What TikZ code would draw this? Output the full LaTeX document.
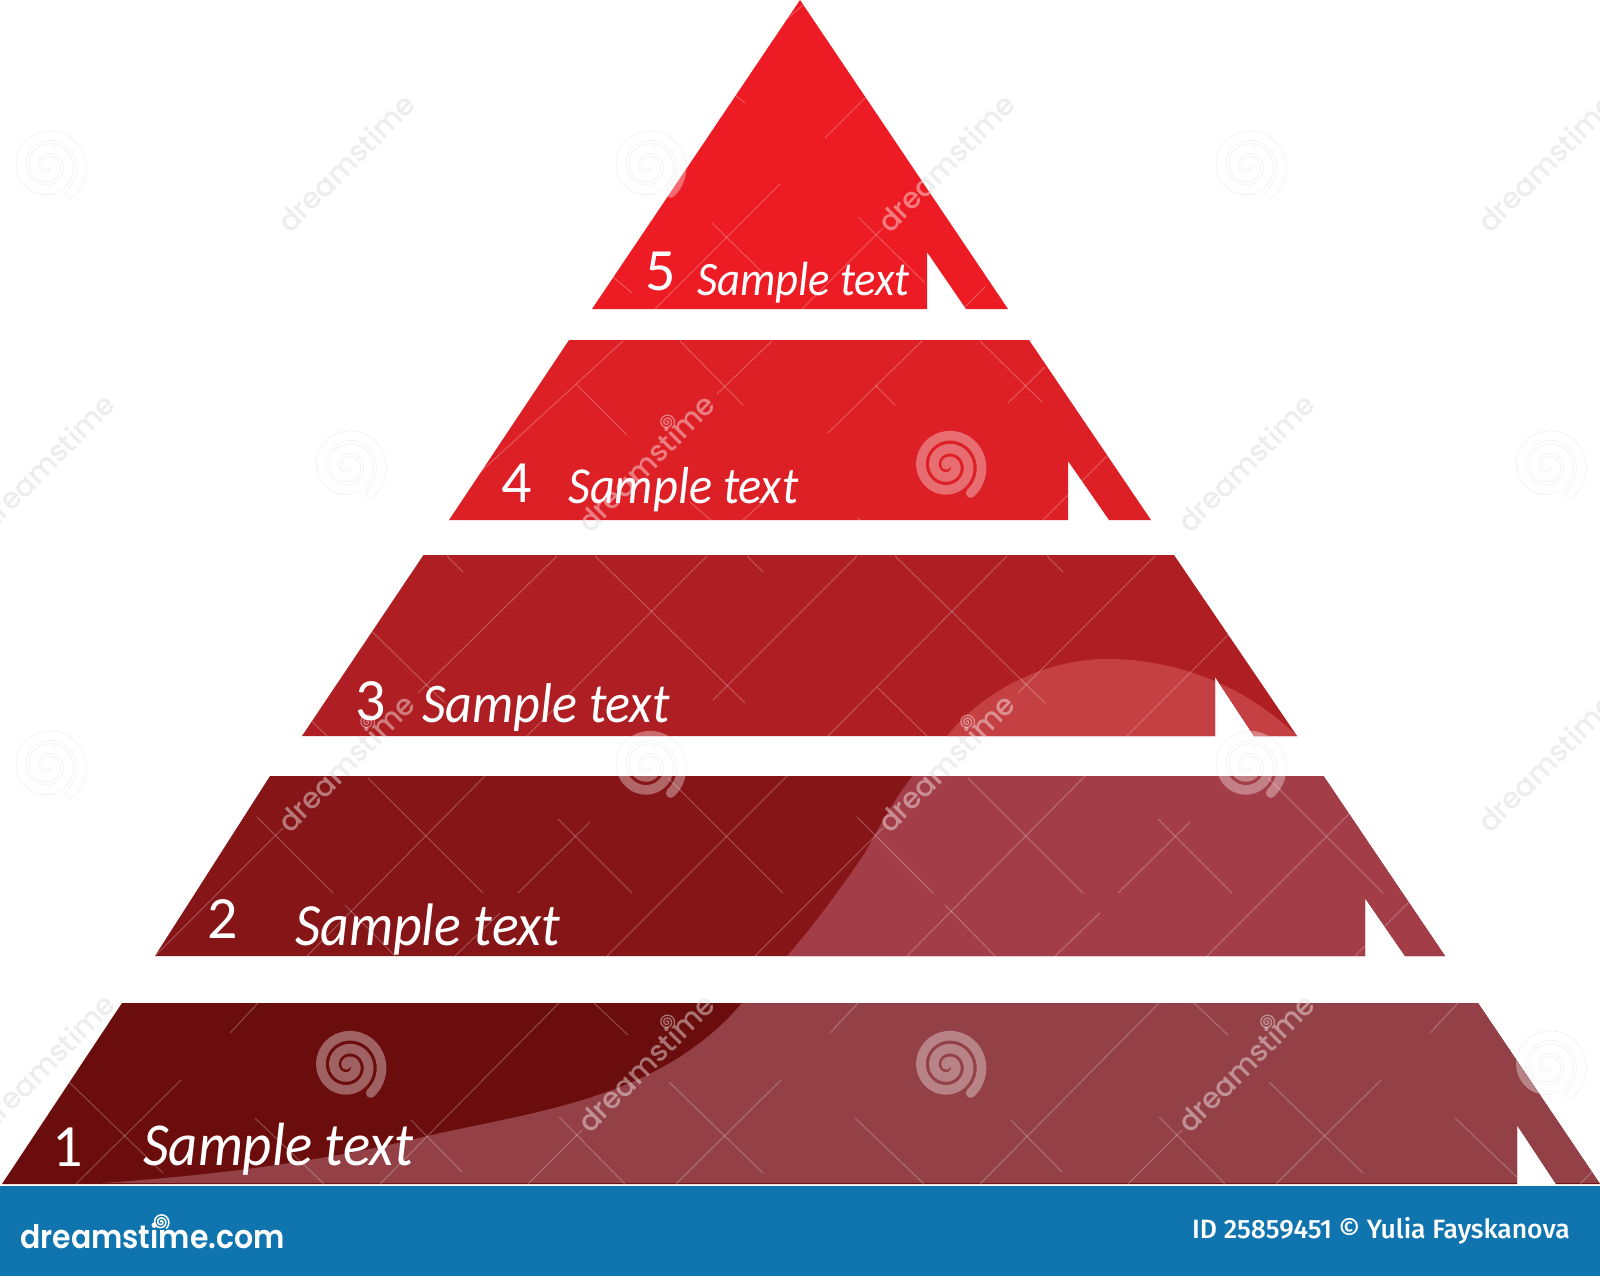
\documentclass[tikz,border=0pt]{standalone}
\usepackage{fontspec}
\setmainfont{Carlito}
\newfontfamily\samplefont[FakeStretch=.93]{Carlito}
\newfontfamily\wmfont[UprightFont=* Medium]{Poppins}
\newfontfamily\logofont[UprightFont=* SemiBold,FakeStretch=.92]{Poppins}
\newfontfamily\idfont[UprightFont=* Medium]{Fira Sans}
\usetikzlibrary{calc}
\definecolor{cFive}{HTML}{ED1C24}
\definecolor{cFour}{HTML}{DD1F26}
\definecolor{cThree}{HTML}{AE1E22}
\definecolor{cThreeL}{HTML}{C44042}
\definecolor{cTwo}{HTML}{861517}
\definecolor{cTwoL}{HTML}{A33E48}
\definecolor{cOne}{HTML}{6C0D0D}
\definecolor{cOneL}{HTML}{934147}
\definecolor{cBand}{HTML}{1075AF}
\definecolor{cFaint}{HTML}{EDEDED}
\tikzset{
  wmline/.style={draw=white,draw opacity=.27,line width=.9pt},
  numlabel/.style={text=white,anchor=base,inner sep=0pt,font=\fontsize{60}{60}\selectfont},
  samplelabel/.style={text=white,anchor=base west,inner sep=0pt},
  swirl/.style={line cap=round,line join=round},
}
\newcommand{\tierFive}{(592,309)--(800,0)--(1008,309)--(966,309)--(927,252)--(927,309)--cycle}
\newcommand{\tierFour}{(449,520)--(569,340)--(1029,340)--(1151,520)--(1109,520)--(1068,461)--(1068,520)--cycle}
\newcommand{\tierThree}{(302,736)--(423.5,555)--(1174,555)--(1297,736)--(1254,736)--(1215,677)--(1215,736)--cycle}
\newcommand{\tierTwo}{(155,956)--(270,776)--(1323.5,776)--(1445,956)--(1405,956)--(1365,898)--(1365,956)--cycle}
\newcommand{\tierOne}{(2,1184)--(122,1003)--(1478,1003)--(1600,1184)--(1556,1184)--(1517,1125)--(1517,1184)--cycle}
\newcommand{\swirlpath}[3]{% centre x, centre y, scale
  plot[smooth,domain=0:1,samples=70] ({#1+#3*(33-31*\x)*cos(-50+920*\x)},{#2-#3*(33-31*\x)*sin(-50+920*\x)})}
\begin{document}
\begin{tikzpicture}[x=1pt,y=-1pt]
\useasboundingbox (0,0) rectangle (1600,1276);
\fill[white] (0,0) rectangle (1600,1276);
% faint watermark on the white ground
\foreach \sx/\sy in {49/163,649/163,1249/163,349/463,949/463,1549/463,49/763,649/763,1249/763,349/1063,949/1063,1549/1063}{
  \draw[swirl,cFaint,line width=10.2pt] \swirlpath{\sx-1}{\sy+3}{1.07};
  \draw[swirl,white,line width=9pt] \swirlpath{\sx-1}{\sy+3}{1.07};
}
\foreach \tx/\ty in {49/1063,649/1063,1249/1063,349/763,949/763,1549/763,49/463,649/463,1249/463,349/163,949/163,1549/163}{
  \node[name=fa\tx a\ty,rotate=45,text=cFaint,inner sep=0pt,font=\wmfont\fontsize{29}{29}\selectfont] at (\tx-3,\ty) {dreamstime};
}
% tiers
\fill[cFive] \tierFive;
\fill[cFour] \tierFour;
\fill[cThree] \tierThree;
\fill[cTwo] \tierTwo;
\fill[cOne] \tierOne;
% highlights
\begin{scope}
  \clip \tierThree;
  \fill[cThreeL] (947,736) .. controls (975,700) and (1035,659) .. (1108,659)
     .. controls (1175,659) and (1245,685) .. (1297,736) -- cycle;
\end{scope}
\begin{scope}
  \clip \tierTwo;
  \fill[cTwoL] (786,957) .. controls (815,925) and (850,875) .. (865,853)
     .. controls (880,825) and (897,795) .. (912.6,776) -- (1460,776) -- (1460,957) -- cycle;
\end{scope}
\begin{scope}
  \clip \tierOne;
  \fill[cOneL] (102,1183) .. controls (220,1175) and (330,1160) .. (423,1137)
     .. controls (530,1112) and (660,1100) .. (742,1003) -- (1610,1003) -- (1610,1183) -- cycle;
\end{scope}
% watermark over the tiers
\begin{scope}
  \clip \tierFive \tierFour \tierThree \tierTwo \tierOne;
  \foreach \a/\b/\c/\d in {
    780/25/803/5,735/95/745/103,825/138/865/98,655/309/780/184,712/223/767/277,613/277/632/293,
    858/217/925/283,802/309/883/228,963/309/985/287,
    463/488/623/341,577/385/627/435,680/341/743/405,717/394/772/341,828/433/922/341,875/385/895/405,
    690/502/712/521,742/521/763/502,980/341/1042/402,1008/403/1045/367,1043/520/1110/453,857/518/862/521,
    295/556/445/703,595/556/745/703,895/556/1045/703,447/556/463/572,747/556/763/572,1047/556/1063/572,
    277/687/327/736,877/687/927/736,418/693/557/556,1018/693/1155/556,713/700/857/556,
    527/736/707/556,828/736/1007/556,1127/736/1307/556}{
    \draw[wmline] (\a,\b) -- (\c,\d);
  }
  \foreach \s in {0,600,1200}{
    \foreach \a/\b/\c/\d in {
      155/956/283/828,257/817/333/893,368/778/483/893,307/956/485/776,345/905/395/956,
      558/819/632/893,518/893/590/822,455/956/500/913,607/956/787/776,668/778/783/893,
      76/1184/181/1080,69/1082/163/1173,230/1033/258/1003,255/1118/324/1184,380/1184/559/1003,
      411/1120/462/1172,594/1003/628/1035,528/1184/582/1130,559/1117/625/1184}{
      \draw[wmline] (\a+\s,\b) -- (\c+\s,\d);
    }
  }
  \foreach \sx/\sy in {49/163,649/163,1249/163,349/463,949/463,1549/463,49/763,649/763,1249/763,349/1063,949/1063,1549/1063}{
    \draw[swirl,white,opacity=.35,line width=9.6pt] \swirlpath{\sx-1}{\sy+3}{1.07};
  }
  \foreach \tx/\ty in {49/1063,649/1063,1249/1063,349/763,949/763,1549/763,49/463,649/463,1249/463,349/163,949/163,1549/163}{
    \node[name=wm\tx a\ty,rotate=45,text=white,text opacity=.42,inner sep=0pt,font=\wmfont\fontsize{29}{29}\selectfont] at (\tx-3,\ty) {dreamstime};
    \draw[swirl,white,opacity=.42,line width=1.3pt] \swirlpath{\tx+18}{\ty-41}{.24};
  }
\end{scope}
% labels
\node[numlabel] (n5) at (661,290) {5};
\node[numlabel] (n4) at (517,502) {4};
\node[numlabel] (n3) at (371,720) {3};
\node[numlabel] (n2) at (223,938) {2};
\node[numlabel] (n1) at (68,1166) {1};
\node[samplelabel,font=\samplefont\itshape\fontsize{48}{48}\selectfont] (t5) at (697,295) {Sample text};
\node[samplelabel,font=\samplefont\itshape\fontsize{52}{52}\selectfont] (t4) at (568,503) {Sample text};
\node[samplelabel,font=\samplefont\itshape\fontsize{56}{56}\selectfont] (t3) at (422,722) {Sample text};
\node[samplelabel,font=\samplefont\itshape\fontsize{60}{60}\selectfont] (t2) at (295,945) {Sample text};
\node[samplelabel,font=\samplefont\itshape\fontsize{61}{61}\selectfont] (t1) at (143,1165) {Sample text};
% bottom band
\fill[cBand] (0,1186) rectangle (1600,1276);
\node[anchor=base west,text=white,inner sep=0pt,font=\logofont\fontsize{32.5}{32.5}\selectfont] (logo) at (20,1248) {dreamstime.com};
\draw[swirl,white,line width=1.5pt] \swirlpath{161}{1222}{.25};
\node[anchor=base east,text=white,inner sep=0pt,font=\idfont\fontsize{26.5}{26.5}\selectfont] (idtext) at (1570,1238) {ID 25859451 © Yulia Fayskanova};
\end{tikzpicture}
\end{document}
